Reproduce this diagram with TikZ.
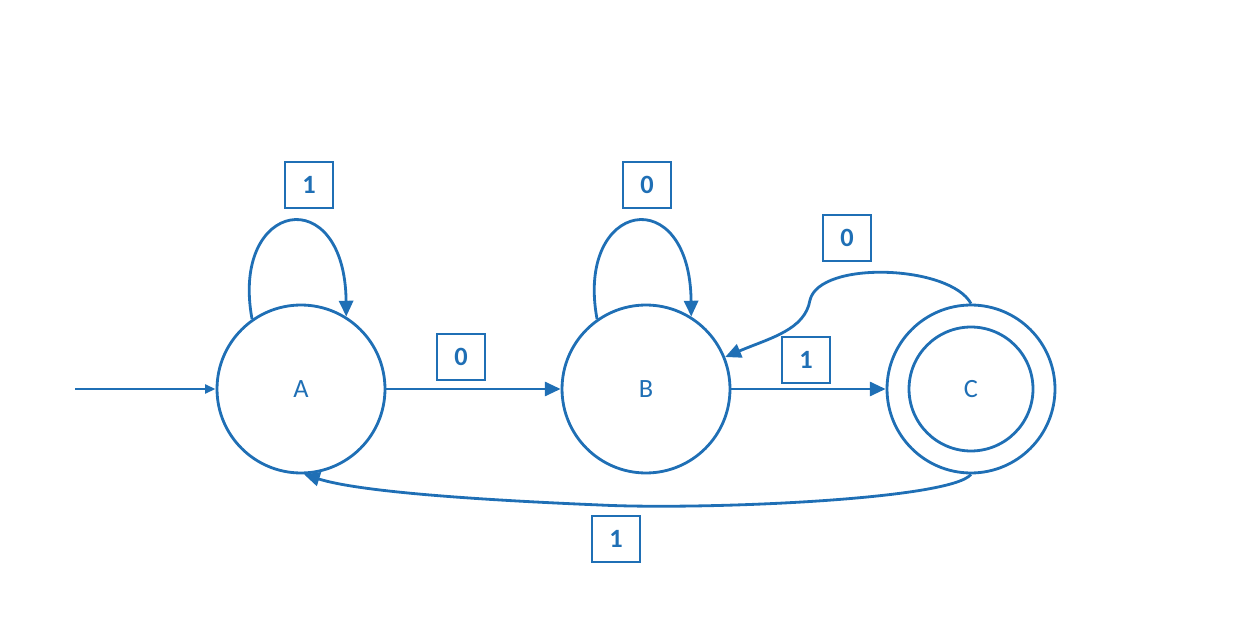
\documentclass[tikz,border=0pt]{standalone}
\usepackage{fontspec}
\setmainfont{Carlito}
\usetikzlibrary{arrows.meta}
\definecolor{bl}{RGB}{31,111,181}
\begin{document}
\begin{tikzpicture}[x=0.02cm,y=-0.02cm,
  st/.style={circle,draw=bl,line width=1.6pt,minimum size=3.36cm,inner sep=0pt,text=bl,font=\fontsize{15}{18}\selectfont},
  lab/.style={draw=bl,line width=0.8pt,text=bl,minimum width=0.96cm,minimum height=0.92cm,inner sep=0pt,font=\bfseries\fontsize{15}{18}\selectfont,fill=white},
  ed/.style={draw=bl,line width=1.6pt,-{Triangle[length=9pt,width=8pt]}}]
\useasboundingbox (0,0) rectangle (1240,634);
\node[st] (A) at (301,389) {A};
\node[st] (B) at (646,389) {B};
\node[st] (C) at (971,389) {C};
\node[circle,draw=bl,line width=1.6pt,minimum size=2.48cm] (Ci) at (971,389) {};
\coordinate (s) at (75,389);
\draw[draw=bl,line width=1.6pt,-{Triangle[length=6pt,width=5pt]}] (s) -- (A);
\draw[ed] (A) -- (B);
\draw[ed] (B) -- (C);
\draw[ed] (A.125) .. controls (230,200) and (345,180) .. (A.58);
\draw[ed] (B.125) .. controls (575,200) and (690,180) .. (B.58);
\draw[ed] (C.90) .. controls (950,265) and (820,260) .. (810,300) .. controls (805,330) and (770,338) .. (B.22);
\draw[ed] (C.270) .. controls (950,500) and (700,510) .. (600,505) .. controls (480,500) and (360,492) .. (A.272);
\node[lab] at (309,185) {1};
\node[lab] at (647,185) {0};
\node[lab] at (461,357) {0};
\node[lab] at (806,360) {1};
\node[lab] at (847,238) {0};
\node[lab] at (616,539) {1};
\end{tikzpicture}
\end{document}
